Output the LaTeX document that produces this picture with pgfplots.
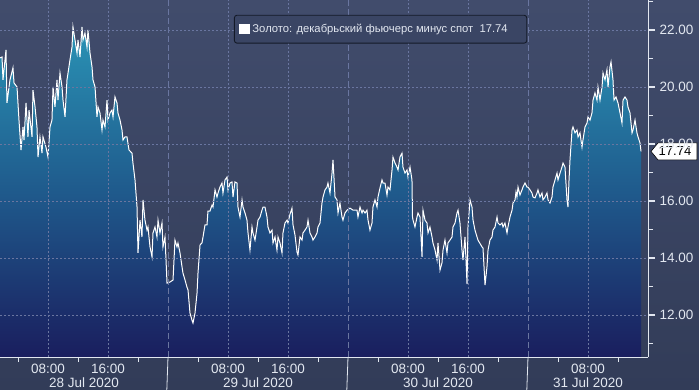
\documentclass[border=0pt]{standalone}
\usepackage{fontspec}
\setmainfont{Liberation Sans}
\usepackage{pgfplots}
\pgfplotsset{compat=1.18}
\usepackage{pgfplotstable}
\definecolor{bgtop}{HTML}{414C6C}
\definecolor{bgbot}{HTML}{323C58}
\definecolor{areatop}{HTML}{2A93B5}
\definecolor{areamid}{HTML}{1F5A8C}
\definecolor{areabot}{HTML}{1A1E5E}
\definecolor{gridc}{HTML}{6A76A0}
\definecolor{txt}{HTML}{E2E7F0}
\definecolor{legbg}{HTML}{3A4564}
\definecolor{legbd}{HTML}{141A28}
\newcommand{\lab}{\fontsize{13.5}{15}\selectfont}
\pgfplotstableread{
h v
1.60 21.02
1.87 21.05
2.00 20.25
2.40 21.30
2.53 19.44
2.93 20.25
3.33 20.67
3.47 20.14
3.87 20.00
4.13 18.84
4.40 17.79
4.67 18.60
4.80 18.14
5.07 19.44
5.33 18.25
5.47 19.19
5.87 18.25
6.00 19.89
6.27 19.30
6.53 18.60
6.67 17.54
6.93 18.25
7.20 17.68
7.33 18.25
7.73 17.89
8.00 17.54
8.27 18.60
8.53 18.84
8.67 20.00
8.93 19.30
9.20 20.25
9.33 19.54
9.60 20.49
9.87 20.00
10.00 19.54
10.27 18.95
10.53 20.25
10.67 20.49
10.93 20.95
11.20 21.40
11.33 22.11
11.60 21.65
11.87 21.19
12.00 21.65
12.27 21.05
12.53 22.11
12.67 21.65
12.93 21.89
13.20 21.40
13.33 22.00
13.60 21.19
13.87 20.70
14.00 20.25
14.27 20.00
14.53 18.95
14.67 19.30
14.93 19.09
15.20 18.49
15.33 18.84
15.60 18.60
15.87 19.54
16.00 18.84
16.27 19.09
16.53 19.19
16.67 18.95
16.93 19.65
17.20 19.44
17.33 19.09
17.60 18.84
17.87 18.49
18.00 18.14
18.27 18.25
18.53 18.25
18.80 17.79
19.20 17.68
19.33 17.33
19.60 16.74
19.87 15.79
20.00 14.18
20.27 15.33
20.53 14.74
20.67 16.04
20.93 15.33
21.20 14.98
21.33 15.09
21.60 14.39
21.87 14.04
22.00 14.88
22.27 15.09
22.53 14.74
22.67 15.33
22.93 14.88
23.20 15.23
23.33 14.39
23.60 14.74
23.87 13.12
24.27 13.16
24.67 13.23
24.93 14.63
25.20 14.39
25.33 14.53
25.60 14.18
25.87 13.69
26.00 13.47
26.27 13.23
26.53 12.98
26.67 12.88
26.93 12.07
27.20 11.82
27.33 11.72
27.60 12.07
27.87 12.77
28.00 13.47
28.27 14.46
28.53 14.53
28.67 14.74
28.93 15.16
29.20 15.16
29.33 15.65
29.60 15.65
29.87 15.86
30.00 15.79
30.27 16.39
30.53 16.14
30.67 16.28
30.93 16.49
31.20 16.63
31.33 16.28
31.60 16.74
31.87 16.84
32.00 16.39
32.27 16.63
32.53 16.67
32.67 16.14
32.93 16.67
33.20 16.63
33.33 15.79
33.60 15.44
33.87 16.04
34.00 15.79
34.27 15.58
34.53 15.33
34.67 14.88
34.93 14.28
35.20 15.09
35.33 14.88
35.60 14.63
35.87 15.09
36.00 15.33
36.27 15.44
36.53 15.68
36.67 15.79
36.93 15.79
37.20 15.44
37.33 15.09
37.60 14.88
37.87 14.98
38.00 14.53
38.27 14.74
38.53 14.28
38.67 14.74
38.93 14.53
39.20 14.18
39.33 14.88
39.60 15.23
39.87 15.33
40.00 15.23
40.27 15.54
40.53 15.75
40.67 15.16
40.93 14.81
41.20 14.21
41.33 14.11
41.60 14.74
41.87 14.63
42.00 14.88
42.27 14.98
42.53 15.09
42.67 15.33
42.93 14.88
43.20 14.74
43.33 14.63
43.60 14.74
43.87 14.88
44.00 15.09
44.27 15.23
44.53 15.93
44.67 16.14
44.93 16.39
45.20 16.49
45.33 16.63
45.60 16.28
45.87 16.98
46.00 17.44
46.27 16.14
46.53 16.04
46.67 15.58
46.93 15.93
47.20 15.44
47.33 15.33
47.60 15.58
47.87 15.68
48.27 15.75
48.67 15.68
49.20 15.68
49.33 15.44
49.60 15.79
49.87 15.58
50.00 15.68
50.27 15.58
50.53 15.68
50.67 15.33
50.93 14.98
51.20 15.23
51.33 15.79
51.60 16.04
51.87 15.79
52.00 16.14
52.27 16.46
52.53 16.74
52.67 16.63
52.93 16.63
53.20 16.21
53.33 16.49
53.60 16.39
53.87 17.09
54.00 17.54
54.27 17.33
54.53 17.19
54.67 17.09
54.93 17.54
55.20 17.68
55.33 17.19
55.60 16.98
55.87 17.09
56.00 16.84
56.27 17.19
56.53 16.74
56.60 15.44
56.67 15.33
56.93 15.09
57.20 15.44
57.33 15.58
57.60 15.44
57.87 14.04
58.00 15.68
58.27 15.33
58.53 15.23
58.67 14.88
58.93 15.09
59.20 14.74
59.33 14.53
59.60 14.28
59.87 13.93
60.00 14.53
60.27 13.58
60.53 13.83
60.67 14.28
60.93 14.63
61.20 14.18
61.33 14.53
61.60 14.63
61.87 14.74
62.00 15.09
62.27 15.23
62.53 15.58
62.67 15.68
62.93 15.23
63.20 14.28
63.33 13.93
63.60 14.74
63.87 13.09
64.00 15.09
64.27 16.04
64.53 15.79
64.67 15.33
64.93 14.98
65.33 14.63
65.87 14.39
66.00 14.35
66.27 13.05
66.53 13.69
66.67 14.28
66.93 14.63
67.20 14.74
67.33 14.98
67.60 15.09
67.87 15.44
68.00 15.23
68.27 15.16
68.53 15.23
68.67 15.09
68.93 15.23
69.20 14.88
69.33 15.09
69.60 15.44
69.87 15.68
70.00 15.93
70.27 16.04
70.40 16.32
70.53 16.14
70.67 16.49
70.93 16.21
71.20 16.39
71.33 16.49
71.60 16.63
71.87 16.49
72.00 16.49
72.27 16.39
72.53 16.28
72.67 16.14
72.93 16.11
73.20 16.28
73.33 16.39
73.60 16.14
73.87 16.28
74.00 16.04
74.27 16.14
74.53 16.28
74.67 16.04
74.93 15.93
75.20 16.14
75.33 16.49
75.60 16.74
75.87 16.98
76.00 16.74
76.27 16.98
76.53 17.19
76.67 17.33
76.93 17.19
77.20 16.04
77.33 15.79
77.47 16.74
77.60 17.44
77.87 18.49
78.00 18.60
78.27 18.39
78.53 18.49
78.67 18.25
78.93 18.39
79.20 17.89
79.33 18.14
79.60 18.60
79.87 18.74
80.00 18.95
80.27 18.84
80.53 19.09
80.67 19.54
80.93 19.79
81.20 19.54
81.33 20.00
81.60 19.54
81.87 20.00
82.00 20.49
82.27 20.25
82.53 20.60
82.67 20.00
82.93 20.70
83.07 20.88
83.33 20.25
83.47 19.54
83.73 19.65
84.00 19.44
84.27 19.09
84.53 18.74
84.67 19.54
84.93 19.65
85.20 19.54
85.33 19.30
85.60 19.09
85.87 18.39
86.00 18.49
86.27 18.84
86.53 18.39
86.67 18.25
86.93 18.04
87.07 17.74
}\gold
\begin{document}
\begin{tikzpicture}[x=1pt,y=1pt]
\shade[top color=bgtop, bottom color=bgbot] (0,0) rectangle (699,390);
\begin{axis}[
  at={(0pt,33pt)}, anchor=south west,
  scale only axis, width=648pt, height=357pt,
  xmin=1.6, xmax=88, ymin=10.53, ymax=23.05,
  clip=false, axis on top,
  axis x line*=bottom, axis y line*=right,
  axis line style={txt, line width=0.8pt},
  tick align=outside,
  major tick length=7pt, minor tick length=5pt,
  xtick={8,16,32,40,56,64,80},
  xticklabels={08:00,16:00,08:00,16:00,08:00,16:00,08:00},
  minor xtick={4,12,20,28,36,44,52,60,68,76,84},
  extra x ticks={24,48,72},
  extra x tick style={grid style={gridc, line width=0.6pt, dash pattern=on 6pt off 3pt}, xticklabel={}},
  every major x tick/.append style={draw=none},
  every minor x tick/.append style={txt, line width=0.8pt},
  ytick={12,14,16,18,20,22},
  minor ytick={11,13,15,17,19,21,23},
  every major y tick/.append style={txt, line width=1.4pt},
  every minor y tick/.append style={txt, line width=0.8pt},
  xmajorgrids, ymajorgrids,
  grid style={gridc, line width=0.6pt, dash pattern=on 2pt off 2pt},
  /pgf/number format/fixed, /pgf/number format/fixed zerofill,
  /pgf/number format/precision=2, /pgf/number format/assume math mode=true,
  yticklabel style={font=\lab, text=txt, anchor=west, xshift=1pt},
  xticklabel style={font=\lab, text=txt, anchor=base, yshift=-9pt},
  legend style={at={(rel axis cs:0.3611,0.9585)}, anchor=north west, fill=legbg,
    draw=legbd, rounded corners=2.5pt, text=txt, line width=0.9pt,
    font=\fontsize{11.25}{13}\selectfont, inner xsep=5pt, inner ysep=7pt},
  legend image code/.code={\fill[white, sharp corners] (0pt,-4.5pt) rectangle (10pt,4.5pt);},
]
\addplot[draw=none, top color=areatop, bottom color=areabot, middle color=areamid, forget plot]
  table[x=h, y=v] {\gold} |- (axis cs:1.6,10.53) -- cycle;
\addplot[white, line width=1pt] table[x=h, y=v] {\gold};
\addlegendentry{Золото: декабрьский фьючерс минус спот\hspace{0.55em}17.74\rule{12pt}{0pt}}
\draw[txt, line width=0.8pt] (axis cs:24,10.53) -- ++(0,-33pt);
\draw[txt, line width=0.8pt] (axis cs:48,10.53) -- ++(0,-33pt);
\draw[txt, line width=0.8pt] (axis cs:72,10.53) -- ++(0,-33pt);
\node[anchor=base, font=\lab, text=txt] at ([yshift=-30pt]axis cs:12.8,10.53) {28 Jul 2020};
\node[anchor=base, font=\lab, text=txt] at ([yshift=-30pt]axis cs:36,10.53) {29 Jul 2020};
\node[anchor=base, font=\lab, text=txt] at ([yshift=-30pt]axis cs:60,10.53) {30 Jul 2020};
\node[anchor=base, font=\lab, text=txt] at ([yshift=-30pt]axis cs:80,10.53) {31 Jul 2020};
\filldraw[fill=white, draw=black, line width=0.6pt]
  ([xshift=3pt]axis cs:88,17.74) -- ([xshift=10pt,yshift=8.5pt]axis cs:88,17.74)
  -- ([xshift=49pt,yshift=8.5pt]axis cs:88,17.74) -- ([xshift=49pt,yshift=-8.5pt]axis cs:88,17.74)
  -- ([xshift=10pt,yshift=-8.5pt]axis cs:88,17.74) -- cycle;
\node[anchor=west, font=\fontsize{13}{14}\selectfont, text=black, inner sep=0pt] at ([xshift=10.5pt]axis cs:88,17.74) {17.74};
\end{axis}
\pgfresetboundingbox
\path[use as bounding box] (0,0) rectangle (699,390);
\end{tikzpicture}
\end{document}
